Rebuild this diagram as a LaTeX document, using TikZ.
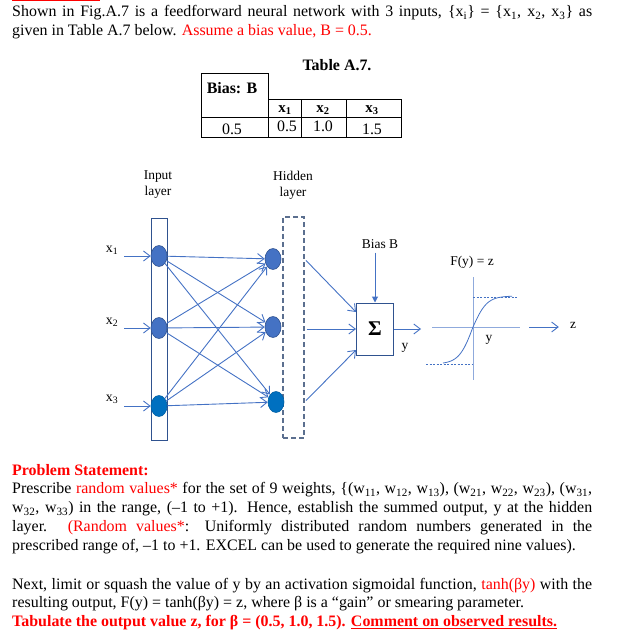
\documentclass[tikz,border=0pt]{standalone}
\usepackage{fontspec}
\setmainfont{Liberation Serif}
\usetikzlibrary{arrows.meta,shapes.geometric}
\definecolor{nnblue}{HTML}{4472C4}
\definecolor{nnedge}{HTML}{2F528F}
\definecolor{nndeep}{HTML}{0070C0}
\definecolor{nnslate}{HTML}{5B6F8F}
\definecolor{nnpale}{HTML}{8FAADC}
\definecolor{alert}{HTML}{FF0000}

\tikzset{
  neuron/.style={ellipse,fill=nnblue,draw=nnedge,line width=0.6bp,minimum width=16bp,minimum height=21bp,inner sep=0pt},
  link/.style={draw=nnblue,line width=0.9bp,-{Straight Barb[length=6.5bp,width=10bp]}},
  para/.style={anchor=base west,inner sep=0pt,text width=580bp,align=justify,font=\fontsize{16}{19}\selectfont},
  lbl/.style={inner sep=0pt,font=\fontsize{13.5}{16}\selectfont},
  cell/.style={inner sep=0pt,font=\fontsize{16}{19}\selectfont},
}

\begin{document}
\begin{tikzpicture}[x=1bp,y=-1bp]
\useasboundingbox (0,0) rectangle (618,637);
\draw[alert,line width=1.5bp] (12,0.75) -- (100,0.75);

\node[para] (intro) at (12,17) {Shown in Fig.A.7 is a feedforward neural network with 3 inputs, \{x\textsubscript{i}\} = \{x\textsubscript{1}, x\textsubscript{2}, x\textsubscript{3}\} as\linebreak given in Table A.7 below. \textcolor{alert}{Assume a bias value, B = 0.5.}};

\node[cell,font=\bfseries\fontsize{16}{19}\selectfont] (tabtitle) at (337,65) {Table A.7.};
\draw[line width=1bp] (201,74) rectangle (268,138);
\draw[line width=1bp] (268,100) rectangle (401,138);
\draw[line width=1bp] (201,118) -- (401,118);
\draw[line width=1bp] (301,100) -- (301,138);
\draw[line width=1bp] (346,100) -- (346,138);
\node[cell,font=\bfseries\fontsize{16}{19}\selectfont] (biashead) at (232,88) {Bias: B};
\node[cell,font=\bfseries\fontsize{15}{19}\selectfont] (xhead1) at (285,110) {x\textsubscript{1}};
\node[cell,font=\bfseries\fontsize{15}{19}\selectfont] (xhead2) at (323,110) {x\textsubscript{2}};
\node[cell,font=\bfseries\fontsize{15}{19}\selectfont] (xhead3) at (372,110) {x\textsubscript{3}};
\node[cell] (biasval) at (232,129) {0.5};
\node[cell] (xval1) at (287,126) {0.5};
\node[cell] (xval2) at (323,126) {1.0};
\node[cell] (xval3) at (372,129) {1.5};

\node[lbl,align=center] (inlab) at (158,185) {Input\\layer};
\node[lbl,align=center] (hidlab) at (293,185) {Hidden\\layer};

\node[draw=nnedge,line width=1bp,minimum width=16bp,minimum height=221bp,inner sep=0pt] (inbox) at (159,329.5) {};
\node[draw=nnslate,line width=1.2bp,dash pattern=on 5bp off 3bp,minimum width=21bp,minimum height=221bp,inner sep=0pt] (hidbox) at (293.5,327.5) {};

\node[neuron] (in1) at (159,256) {};
\node[neuron] (in2) at (159,328) {};
\node[neuron,fill=nndeep,draw=nndeep!85!black] (in3) at (159,406) {};
\node[neuron] (hd1) at (273,259) {};
\node[neuron] (hd2) at (273,327) {};
\node[neuron,fill=nndeep,draw=nndeep!85!black] (hd3) at (276,402) {};

\foreach \i/\y/\ly in {1/256/250,2/328/322,3/406/399} {
  \coordinate (src\i) at (124,\y);
  \node[lbl,font=\fontsize{14}{16}\selectfont] (xl\i) at (112,\ly) {x\textsubscript{\i}};
  \draw[link] (src\i) -- (in\i);
}
\foreach \i in {1,2,3}
  \foreach \j in {1,2,3}
    \draw[link] (in\i) -- (hd\j);

\node[draw=nnedge,line width=1bp,minimum width=37bp,minimum height=52bp,inner sep=0pt,font=\bfseries\fontsize{21}{23}\selectfont] (sum) at (375,329) {Σ};
\draw[link,shorten <=2bp] (hidbox.east |- hd1) -- ([yshift=17bp]sum.west);
\draw[link,shorten <=2bp] (hidbox.east |- sum.west) -- (sum.west);
\draw[link,shorten <=2bp] (hidbox.east |- hd3) -- ([yshift=-21bp]sum.west);

\node[lbl] (bias) at (380,244) {Bias B};
\draw[draw=nnblue,line width=1bp,shorten <=4bp,-{Triangle[length=6bp,width=6bp]}] (bias.south -| sum.north) -- (sum.north);

\coordinate (yend) at (421,329);
\draw[link] (sum.east) -- (yend);
\node[lbl] (ylab) at (405,348) {y};

\draw[nnpale,line width=1bp] (432,327) -- (520,327);
\draw[nnpale,line width=1bp] (473,277) -- (473,380);
\draw[nnblue,line width=0.7bp,dash pattern=on 2bp off 1.5bp] (473,297) -- (517,297);
\draw[nnblue,line width=0.7bp,dash pattern=on 2bp off 1.5bp] (426,364) -- (473,364);
\draw[nnblue,line width=0.8bp] plot[domain=-30:39,samples=70,smooth] ({473+\x},{327-(\x>0?31:37)*tanh(\x/14)});
\node[lbl] (fy) at (472,262) {F(y) = z};
\node[lbl] (yaxis) at (489,340) {y};
\coordinate (zsrc) at (529,327);
\node[lbl] (zlab) at (573,325) {z};
\draw[link,shorten >=11bp] (zsrc) -- (zlab.west |- zsrc);

\node[para] (problem) at (12,475) {\textcolor{alert}{\textbf{Problem Statement:}}\\
Prescribe \textcolor{alert}{random values*} for the set of 9 weights, \{(w\textsubscript{11}, w\textsubscript{12}, w\textsubscript{13}), (w\textsubscript{21}, w\textsubscript{22}, w\textsubscript{23}), (w\textsubscript{31},\linebreak
w\textsubscript{32}, w\textsubscript{33}) in the range, (–1 to +1). Hence, establish the summed output, y at the hidden\linebreak
layer. \textcolor{alert}{(Random values*}: Uniformly distributed random numbers generated in the\linebreak
prescribed range of, –1 to +1. EXCEL can be used to generate the required nine values).};

\node[para] (next) at (12,589) {Next, limit or squash the value of y by an activation sigmoidal function, \textcolor{alert}{tanh(βy)} with the\linebreak
resulting output, F(y) = tanh(βy) = z, where β is a “gain” or smearing parameter.\\
\textcolor{alert}{\textbf{Tabulate the output value z, for β = (0.5, 1.0, 1.5). \underline{Comment on observed results.}}}};
\end{tikzpicture}
\end{document}
